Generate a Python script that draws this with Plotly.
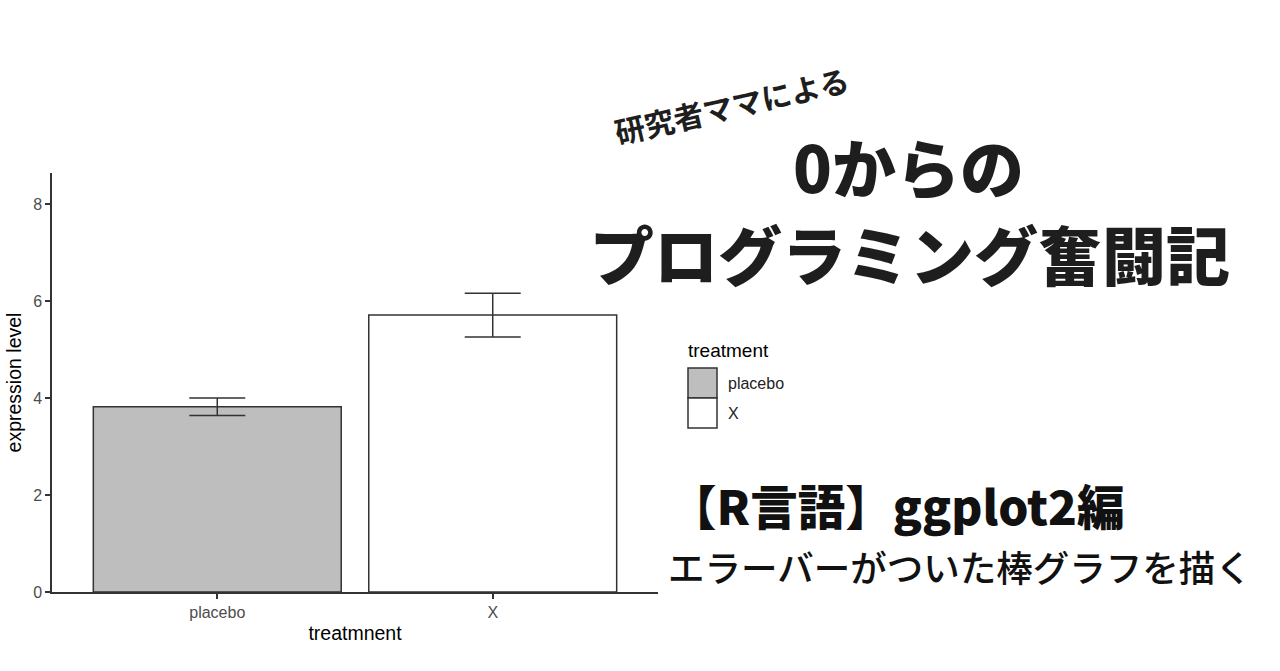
import plotly.graph_objects as go

# data
treatments = ["placebo", "X"]
means = [3.82, 5.71]
errors = [0.18, 0.45]
fills = ["#BEBEBE", "#FFFFFF"]
y_ticks = [0, 2, 4, 6, 8]

W, H = 1280, 671
L, R, T, B = 52, 622, 173, 79
INK = "#333333"
JP = "Noto Sans CJK JP"
EN = "Liberation Sans, Arial, sans-serif"


def paper(x, y):
    # pixel position on the page -> paper coordinates
    return (x - L) / (W - L - R), (H - B - y) / (H - T - B)


fig = go.Figure()
fig.add_trace(go.Bar(
    x=treatments, y=means, width=0.9,
    marker=dict(color=fills, line=dict(color=INK, width=1.5)),
    error_y=dict(type="data", array=errors, color=INK, thickness=1.5, width=28),
    showlegend=False,
))

fig.update_layout(
    width=W, height=H,
    margin=dict(l=L, r=R, t=T, b=B, pad=0),
    paper_bgcolor="white", plot_bgcolor="white",
    font=dict(family=EN, color="#000000"),
)
fig.update_xaxes(
    type="category", range=[-0.6, 1.6],
    showline=True, linecolor=INK, linewidth=1.5,
    ticks="outside", ticklen=5, tickcolor=INK, tickwidth=1.5,
    tickfont=dict(size=16, color="#4D4D4D"),
    showgrid=False, zeroline=False,
    title=dict(text="treatmnent", font=dict(size=19.5, color="#000000"), standoff=6),
)
fig.update_yaxes(
    range=[0, 8.64], tickvals=y_ticks,
    showline=True, linecolor=INK, linewidth=1.5,
    ticks="outside", ticklen=5, tickcolor=INK, tickwidth=1.5,
    tickfont=dict(size=16, color="#4D4D4D"),
    showgrid=False, zeroline=False,
    title=dict(text="expression level", font=dict(size=19.5, color="#000000"), standoff=6),
)

# hand-made legend with the large ggplot keys
shapes = []
key_top = 368
for i, c in enumerate(fills):
    x0, y0 = paper(688, key_top + i * 30)
    x1, y1 = paper(717, key_top + (i + 1) * 30)
    shapes.append(dict(type="rect", xref="paper", yref="paper",
                       x0=x0, y0=y0, x1=x1, y1=y1,
                       fillcolor=c, line=dict(color=INK, width=1.5)))
fig.update_layout(shapes=shapes)

annots = []


def note(text, x, y, size, family, weight="normal", color="#000000",
         xanchor="center", angle=0):
    px, py = paper(x, y)
    annots.append(dict(text=text, x=px, y=py, xref="paper", yref="paper",
                       xanchor=xanchor, yanchor="middle", showarrow=False,
                       textangle=angle,
                       font=dict(size=size, family=family, weight=weight, color=color)))


note("treatment", 686, 350, 19, EN, xanchor="left")
for i, name in enumerate(treatments):
    note(name, 726, key_top + 15 + i * 30, 16, EN, xanchor="left", color="#222222")

# banner text
note("研究者ママによる", 731, 105, 30, JP, weight="bold", color="#1E1E1E", angle=-13)
note("0からの", 908, 165, 64, JP, weight=900, color="#1E1E1E")
note("プログラミング奮闘記", 910, 252, 64, JP, weight=900, color="#1E1E1E")
note("【R言語】ggplot2編", 896, 504, 47.5, JP, weight=900, color="#111111")
note("エラーバーがついた棒グラフを描く", 960, 566, 36.5, JP, weight=500, color="#111111")

fig.update_layout(annotations=annots)

# drop the browser's default body margin so the figure sits at the page corner
fig.write_html("out.html", config={"displayModeBar": False},
               post_script="document.body.style.margin='0';")
